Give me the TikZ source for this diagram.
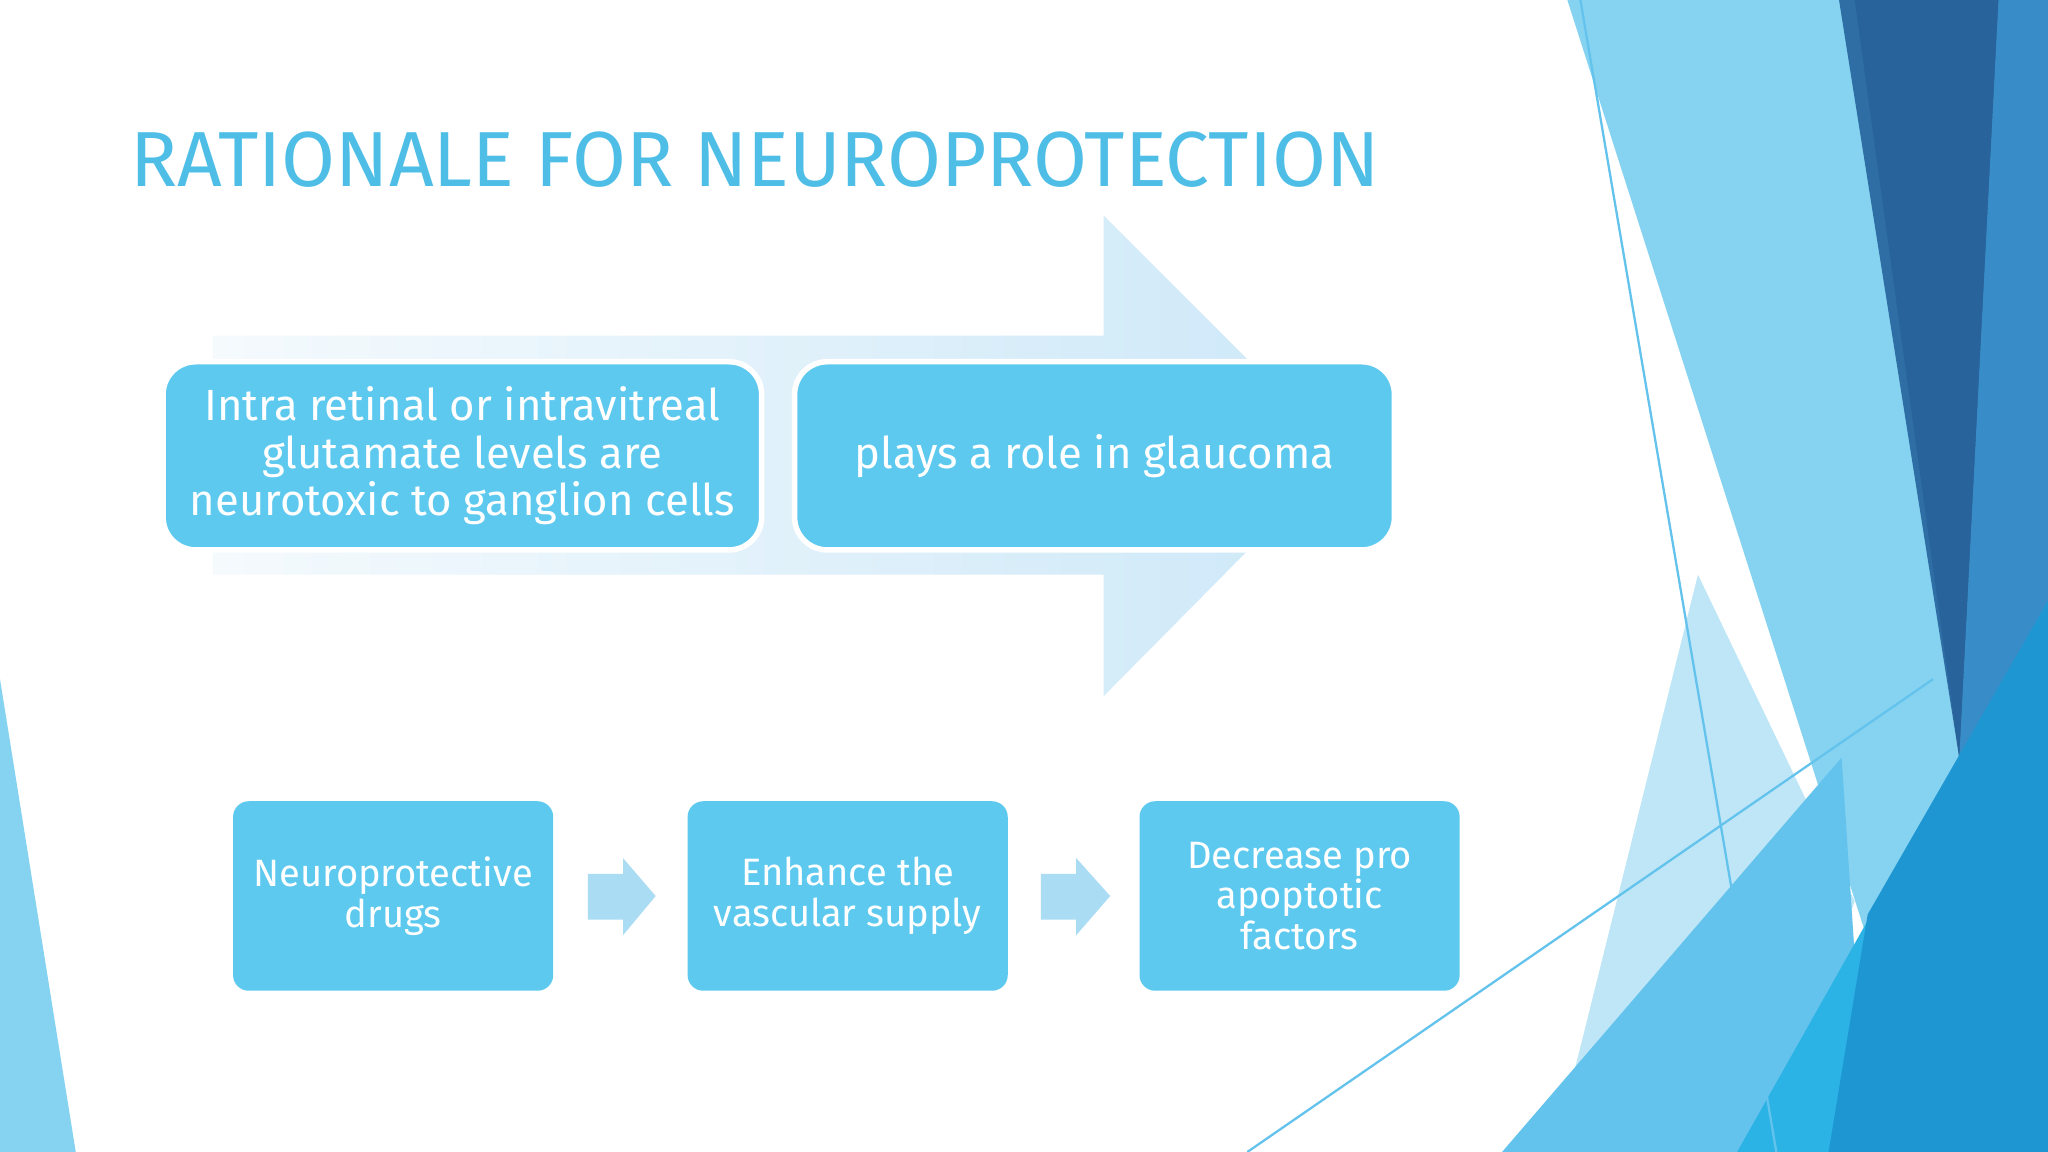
\documentclass[tikz,border=0pt]{standalone}
\usepackage{fontspec}
\setmainfont{Fira Sans}
\begin{document}
\begin{tikzpicture}[x=0.01cm,y=-0.01cm,
  bigbox/.style={draw=white,line width=1.2pt,fill=boxc,rounded corners=0.25cm,text=white,align=center,inner sep=0pt},
  smallbox/.style={fill=boxc,rounded corners=0.12cm,text=white,align=center,inner sep=0pt,font=\fontsize{8.3}{8.8}\selectfont},
  chev/.style={fill=arrc}]
\definecolor{boxc}{RGB}{94,201,239}
\definecolor{arrc}{RGB}{170,220,244}
\definecolor{titlec}{RGB}{78,190,230}
\useasboundingbox (0,0) rectangle (1568,882);
\fill[white] (0,0) rectangle (1568,882);
% right decoration
\fill[color={rgb,255:red,134;green,211;blue,241}] (1200,0)--(1410,0)--(1500,580)--(1430,720)--cycle;
\fill[color={rgb,255:red,190;green,230;blue,247}] (1190,882)--(1300,440)--(1420,690)--(1350,882)--cycle;
\fill[color={rgb,255:red,46;green,110;blue,164}] (1408,0)--(1568,0)--(1568,460)--(1500,580)--cycle;
\fill[color={rgb,255:red,56;green,140;blue,200}] (1530,0)--(1568,0)--(1568,460)--(1500,580)--cycle;
\fill[color={rgb,255:red,40;green,100;blue,155}] (1420,0)--(1530,0)--(1500,580)--cycle;
\fill[color={rgb,255:red,100;green,195;blue,236}] (1150,882)--(1410,580)--(1430,882)--cycle;
\fill[color={rgb,255:red,43;green,179;blue,230}] (1330,882)--(1568,460)--(1568,882)--cycle;
\fill[color={rgb,255:red,30;green,150;blue,210}] (1400,882)--(1430,700)--(1568,460)--(1568,882)--cycle;
\draw[color={rgb,255:red,100;green,195;blue,236},line width=0.5pt] (1210,0)--(1360,882);
\draw[color={rgb,255:red,100;green,195;blue,236},line width=0.5pt] (955,882)--(1480,520);
\fill[color={rgb,255:red,134;green,211;blue,241}] (0,520)--(58,882)--(0,882)--cycle;
% title
\node[anchor=west,text=titlec,font=\fontsize{17}{20}\selectfont,inner sep=0pt] (title) at (99,122) {RATIONALE FOR NEUROPROTECTION};
% big arrow
\shade[left color={rgb,255:red,245;green,250;blue,253},right color={rgb,255:red,205;green,232;blue,248}]
  (163,257)--(845,257)--(845,165)--(1028,348)--(845,533)--(845,440)--(163,440)--cycle;
\node[bigbox,minimum width=4.58cm,minimum height=1.44cm,font=\fontsize{9.5}{10.3}\selectfont] (a) at (354,349) {Intra retinal or intravitreal\\glutamate levels are\\neurotoxic to ganglion cells};
\node[bigbox,minimum width=4.59cm,minimum height=1.44cm,font=\fontsize{9.5}{10.3}\selectfont] (b) at (838,349) {plays a role in glaucoma};
% bottom
\node[smallbox,minimum width=2.45cm,minimum height=1.45cm] (c) at (301,686) {Neuroprotective\\drugs};
\node[smallbox,minimum width=2.45cm,minimum height=1.45cm] (d) at (649,686) {Enhance the\\vascular supply};
\node[smallbox,minimum width=2.45cm,minimum height=1.45cm] (e) at (995,686) {Decrease pro\\apoptotic\\factors};
\fill[chev] (450,669)--(477,669)--(477,657)--(502,686)--(477,716)--(477,704)--(450,704)--cycle;
\fill[chev] (797,669)--(824,669)--(824,657)--(850,686)--(824,716)--(824,704)--(797,704)--cycle;
\end{tikzpicture}
\end{document}
